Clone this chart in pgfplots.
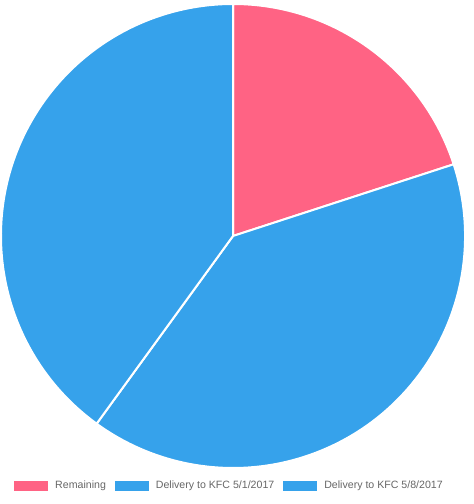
\documentclass[border=0pt]{standalone}
\usepackage{fontspec}
\setmainfont{Liberation Sans}
\usepackage{pgfplots}
\usepackage{pgfplotstable}
\pgfplotsset{compat=1.18}
\definecolor{pinkc}{HTML}{FF6384}
\definecolor{bluec}{HTML}{36A2EB}
\definecolor{txt}{HTML}{666666}
\pgfplotstableread{
label value color
Remaining 20 pinkc
KFC-5/1/2017 40 bluec
KFC-5/8/2017 40 bluec
}\piedata
\begin{document}
\begin{tikzpicture}
\begin{axis}[name=ax,
  scale only axis, width=474bp, height=504bp,
  xmin=0, xmax=474, ymin=0, ymax=504,
  hide axis, clip=false,
  legend columns=3,
  legend style={at={(axis cs:228.5,18.3)}, anchor=center, draw=none, fill=none,
    font=\fontsize{10.6bp}{12bp}\selectfont, text=txt,
    nodes={inner sep=0pt},
    /tikz/every odd column/.append style={column sep=7bp},
    /tikz/every even column/.append style={column sep=9bp}},
  legend image code/.code={\fill[#1] (0bp,-5bp) rectangle (34bp,5bp);},
]
\def\cum{0}
\pgfplotsforeachungrouped \i in {0,1,2}{%
  \pgfplotstablegetelem{\i}{value}\of{\piedata}\let\val=\pgfplotsretval
  \pgfplotstablegetelem{\i}{color}\of{\piedata}\let\col=\pgfplotsretval
  \pgfmathsetmacro{\sa}{90-\cum*3.6}%
  \pgfmathsetmacro{\ea}{90-(\cum+\val)*3.6}%
  \pgfmathsetmacro{\cum}{\cum+\val}%
  \edef\temp{\noexpand\fill[\col, draw=white, line width=2bp, line join=round]
    (axis cs:233,268) -- ([shift={(\sa:232bp)}]axis cs:233,268)
    arc[start angle=\sa, end angle=\ea, radius=232bp] -- cycle;}%
  \temp
}
\addlegendimage{fill=pinkc, draw=none}
\addlegendentry{Remaining}
\addlegendimage{fill=bluec, draw=none}
\addlegendentry{Delivery to KFC 5/1/2017}
\addlegendimage{fill=bluec, draw=none}
\addlegendentry{Delivery to KFC 5/8/2017}
\end{axis}
\pgfresetboundingbox
\path (ax.south west) rectangle (ax.north east);
\end{tikzpicture}
\end{document}
